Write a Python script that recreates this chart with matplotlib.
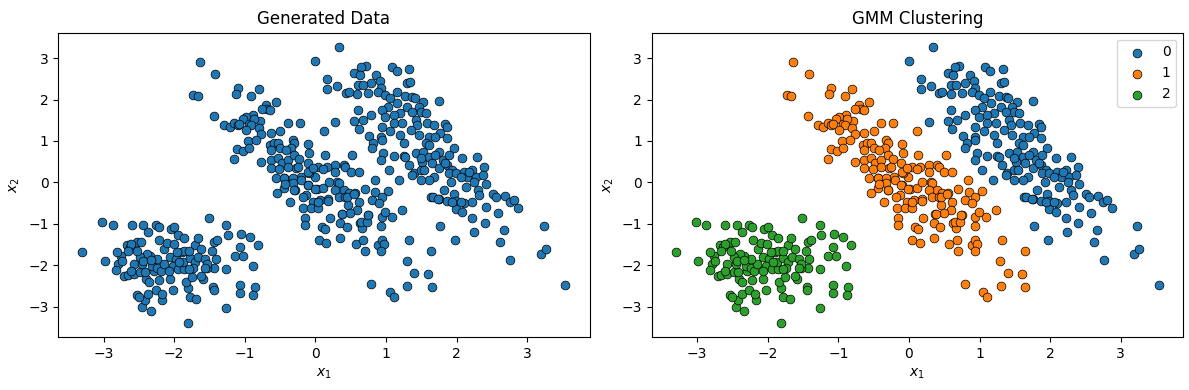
import numpy as np
import matplotlib
matplotlib.use("Agg")
import matplotlib.pyplot as plt

# cluster 0 (blue)
c0_x = [0.34, 0.00, 0.17, 0.17, 0.31, 0.43, 0.28,
        0.71, 0.65, 0.55, 0.63, 1.08, 1.15, 1.33, 0.86, 0.92, 0.79, 0.60, 0.67, 0.93, 0.59,
        0.75, 0.89, 0.47, 1.30, 1.34, 1.15, 0.99, 1.06, 1.27, 1.37, 1.41, 1.53, 1.75, 1.16,
        1.03, 0.94, 0.60, 1.30, 1.46, 1.49, 1.56, 1.37, 1.20, 0.99, 1.11, 0.55, 0.68, 0.79,
        0.61, 0.94, 1.11, 1.23, 1.42, 1.44, 1.58, 1.68, 1.84, 1.87, 1.77, 0.76, 0.93, 1.06,
        1.20, 1.35, 1.46, 1.61, 1.70, 1.87, 1.25, 1.56, 0.82, 0.94,
        0.80, 0.96, 1.11, 0.93, 1.04, 1.19, 1.25, 1.32, 1.39, 1.49, 1.42, 1.53, 1.61, 1.51,
        1.65, 1.75, 1.80, 1.75, 1.68, 1.61, 1.49, 1.37, 1.96, 1.89, 2.08, 2.29, 1.87, 1.94,
        1.89, 1.99, 2.10, 2.22, 2.39, 2.15, 2.27, 2.37, 2.41, 2.13, 2.30, 2.25, 1.82, 1.96,
        1.63, 1.75, 1.87, 1.99, 2.10, 2.22, 2.41, 2.51, 2.55, 2.58, 1.99, 2.08, 2.22, 1.61,
        1.70, 2.06, 1.92, 1.49, 1.84, 2.18, 1.27, 1.54,
        2.68, 2.75, 2.81, 2.87, 2.24, 2.40, 2.67, 2.62, 2.76, 3.23, 3.19, 3.26, 3.54, 1.77,
        1.97, 1.66, 1.74, 1.94, 2.06, 2.32]
c0_y = [3.28, 2.94, 2.50, 2.26, 2.33, 2.17, 1.46,
        2.82, 2.79, 2.65, 2.59, 2.78, 2.69, 2.75, 2.59, 2.45, 2.39, 2.35, 2.35, 2.29, 2.13,
        2.15, 2.19, 2.19, 2.41, 2.43, 2.19, 2.11, 2.03, 2.09, 2.07, 2.05, 1.95, 1.97, 1.91,
        1.81, 1.75, 1.76, 1.83, 1.81, 1.71, 1.67, 1.71, 1.67, 1.59, 1.63, 1.49, 1.50, 1.63,
        1.28, 1.33, 1.43, 1.44, 1.50, 1.38, 1.44, 1.38, 1.41, 1.33, 1.20, 1.12, 1.09, 1.24,
        1.14, 1.26, 1.14, 1.10, 1.09, 1.06, 0.94, 0.94, 0.94, 1.02,
        0.84, 0.72, 0.64, 0.55, 0.31, 0.05, 0.64, 0.42, 0.22, 0.30, 0.70, 0.74, 0.62, 0.50,
        0.46, 0.74, 0.54, 0.34, 0.14, 0.05, 0.05, 0.17, 0.82, 0.66, 0.58, 0.62, 0.42, 0.30,
        0.22, 0.22, 0.26, 0.30, 0.36, 0.12, 0.14, 0.18, -0.04, -0.11, -0.19, 0.02, -0.19, -0.27,
        -0.35, -0.39, -0.44, -0.44, -0.51, -0.47, -0.59, -0.27, -0.35, -0.73, -0.65, -0.71, -0.87, 0.90,
        0.66, 0.14, 0.02, 0.58, 0.46, 0.26, 0.62, 0.30,
        -0.33, -0.47, -0.43, -0.63, -1.21, -0.97, -1.15, -1.43, -1.88, -1.06, -1.73, -1.62, -2.49, -1.05,
        -1.38, -0.35, -0.39, -0.47, -0.47, -0.31]

# cluster 1 (orange)
c1_x = [-1.64, -1.42, -1.73, -1.67, -1.10, -1.13, -1.43, -1.29, -1.21, -1.15, -1.10, -1.11, -1.15,
        -0.80, -0.91, -0.56, -0.70, -0.68, -0.76, -0.64, -0.89, -0.99, -1.03, -1.08, -0.94, -0.79,
        -0.87, -0.91, -0.80, -0.99, -0.77, -0.63, -0.50, -0.39, -0.22, 0.12, -0.95, -0.84, -1.02,
        -0.94, -0.65, -0.59, -0.53, -0.63, -0.50, -0.32, -0.30, -0.34, -0.10, -0.09, -0.42, -0.77,
        -0.63, -0.53, -0.48, -0.39, -0.30, -0.23, -0.11, 0.13, 0.28, 0.40, 0.52, -0.01, 0.31,
        0.04, -0.21, 0.16, -0.28, -0.44, -0.09,
        -0.63, -0.51, -0.39, -0.25, -0.10, -0.03, 0.11, 0.28, 0.42, 0.50, 0.61, -0.56, -0.44,
        -0.32, -0.20, -0.32, -0.44, -0.29, -0.54, -0.10, 0.02, 0.11, 0.19, 0.33, 0.40, 0.28,
        0.47, 0.56, 0.70, 0.84, -0.13, -0.03, 0.07, 0.18, 0.33, 0.42, 0.61, 0.80, -0.36, -0.17,
        -0.06, 0.04, 0.46, 0.59, 0.37, 0.49, 0.75, -0.15, -0.15, 0.20, 0.35, 0.44, 0.63, 0.66,
        0.09, 0.13, -0.43, -0.30, -0.18, -0.11, -0.01, 0.04, 0.18, 0.38, 0.45, 0.54, 0.65,
        0.73, 0.74, 0.85,
        0.05, 0.15, 0.35, 0.57, 0.68, 0.70, 0.89, 0.94, 0.97, 0.93, 1.29, 1.32, 0.79, 1.05,
        1.11, 1.30, 0.93, 0.94, 1.09, 0.99, 1.23, 1.03, 0.94, 0.90,
        1.64, 1.40, 1.60, 1.65]
c1_y = [2.90, 2.62, 2.12, 2.09, 2.29, 2.14, 1.60, 1.38, 1.34, 1.44, 1.38, 0.80, 0.56,
        2.26, 2.08, 1.94, 1.88, 1.78, 1.77, 1.74, 1.62, 1.58, 1.54, 1.40, 1.42, 1.48,
        1.54, 1.38, 1.32, 1.26, 1.18, 1.20, 1.24, 1.44, 1.44, 1.24, 1.00, 1.02, 0.75,
        0.82, 0.90, 0.94, 0.96, 0.78, 0.82, 1.02, 0.94, 0.82, 0.92, 0.70, 0.78, 0.50,
        0.54, 0.59, 0.46, 0.54, 0.66, 0.56, 0.46, 0.66, 0.43, 0.42, 0.66, 0.14, 0.02,
        0.38, 0.14, 0.38, 0.35, 0.11, 0.22,
        0.35, 0.32, 0.38, 0.38, 0.26, 0.34, 0.32, 0.26, 0.38, 0.26, 0.26, 0.11, 0.11,
        0.10, 0.06, -0.02, -0.14, -0.18, -0.25, -0.06, -0.16, -0.14, 0.02, -0.02, -0.18, -0.18,
        -0.26, -0.26, -0.16, 0.06, -0.31, -0.47, -0.43, -0.39, -0.35, -0.35, -0.47, -0.43, -0.47, -0.63,
        -0.63, -0.61, -0.55, -0.67, -0.77, -0.75, -0.79, -0.87, -1.03, -0.87, -0.99, -1.07, -0.99, -1.11,
        -1.07, -1.13, -0.03, -0.19, -0.35, -0.07, -0.15, -0.48, -0.44, -0.76, -0.35, -0.27, -0.96,
        -0.96, -0.78, -0.23,
        -1.39, -1.47, -1.34, -1.48, -1.40, -1.66, -1.52, -1.39, -1.50, -1.66, -1.89, -1.39, -2.45, -2.64,
        -2.76, -2.50, -1.06, -0.84, -0.84, -0.72, -0.66, -0.21, -0.35, -0.50,
        -1.66, -2.20, -2.22, -2.52]

# cluster 2 (green)
c2_x = [-3.30, -3.02, -2.87, -2.98, -2.60, -2.44, -2.37, -2.26, -2.22, -2.05, -2.00, -1.94,
        -1.86, -1.51, -1.26, -1.24, -1.07, -1.14, -1.07, -1.07, -1.26, -1.26, -1.81, -2.33,
        -2.45, -2.42, -2.53, -2.50, -2.37, -2.26, -2.17, -2.18, -2.02, -2.22, -2.06, -1.78,
        -1.69, -1.81, -1.84, -1.75, -1.59, -1.45, -1.44, -1.43, -1.53, -1.62, -2.67, -2.63,
        -2.76, -2.79, -2.82, -2.71, -2.66, -2.57, -2.48, -2.40, -2.36, -2.42, -2.29, -2.31,
        -2.24, -2.19, -2.15, -2.24, -2.34, -2.39, -2.48, -2.52, -2.53, -2.47, -2.61, -2.66,
        -2.81, -2.74, -2.57, -2.45, -2.21, -2.14, -2.10, -2.06, -1.98, -2.02, -2.07, -1.94,
        -1.86, -1.87, -1.89, -1.86, -1.78, -1.71, -1.74, -1.66, -1.71, -1.67, -1.62, -1.56,
        -1.53, -1.56, -1.41, -1.46, -1.43, -1.39, -1.96, -1.79, -2.01, -1.93, -1.79, -2.61,
        -2.44, -2.33,
        -1.06, -0.93, -0.82, -1.03, -0.89, -0.86, -0.88]
c2_y = [-1.67, -0.96, -1.02, -1.90, -1.02, -1.02, -1.20, -1.02, -1.08, -1.12, -1.08, -1.26,
        -1.34, -0.86, -1.04, -1.26, -1.56, -1.79, -2.49, -2.68, -2.10, -3.03, -3.40, -3.11,
        -3.00, -2.85, -2.71, -2.77, -2.69, -2.59, -2.84, -2.69, -2.59, -2.37, -2.34, -2.76,
        -2.81, -2.55, -2.40, -2.29, -2.33, -2.53, -2.61, -2.07, -2.08, -2.25, -1.52, -1.56,
        -1.77, -1.97, -2.11, -2.25, -2.23, -2.21, -2.17, -2.33, -2.41, -2.17, -2.13, -2.01,
        -2.07, -2.13, -1.97, -1.85, -1.77, -1.73, -1.81, -1.65, -1.43, -1.44, -1.48, -1.65,
        -1.69, -1.89, -1.97, -1.98, -1.40, -1.60, -1.47, -1.81, -1.85, -2.01, -2.15, -2.09,
        -2.09, -1.93, -1.69, -1.65, -1.83, -1.93, -2.06, -1.81, -1.52, -1.34, -1.60, -1.85,
        -1.97, -2.08, -1.85, -1.66, -1.44, -1.40, -1.67, -1.65, -1.49, -1.93, -2.09, -2.15,
        -1.89, -1.87,
        -1.24, -1.32, -1.52, -1.79, -2.02, -2.53, -2.73]

labels = ["0", "1", "2"]
colors = ["#1f77b4", "#ff7f0e", "#2ca02c"]

clusters = [(c0_x, c0_y), (c1_x, c1_y), (c2_x, c2_y)]
all_x = np.concatenate([np.array(cx) for cx, _ in clusters])
all_y = np.concatenate([np.array(cy) for _, cy in clusters])

fig, axes = plt.subplots(1, 2, figsize=(11.89, 3.9), dpi=100)

# left: raw data
ax = axes[0]
ax.scatter(all_x, all_y, s=40, color=colors[0], edgecolor="k", linewidth=0.5)
ax.set_title("Generated Data")
ax.set_xlabel("$x_1$")
ax.set_ylabel("$x_2$")

# right: clustering result
ax = axes[1]
for (cx, cy), lab, col in zip(clusters, labels, colors):
    ax.scatter(cx, cy, s=40, color=col, edgecolor="k", linewidth=0.5, label=lab)
ax.set_title("GMM Clustering")
ax.set_xlabel("$x_1$")
ax.set_ylabel("$x_2$")
ax.legend(loc="upper right")

for ax in axes:
    ax.set_xticks(np.arange(-3, 4, 1))
    ax.set_yticks(np.arange(-3, 4, 1))

fig.subplots_adjust(left=0.049, right=0.995, bottom=0.136, top=0.916, wspace=0.117)
plt.savefig("out.png", dpi=100)
